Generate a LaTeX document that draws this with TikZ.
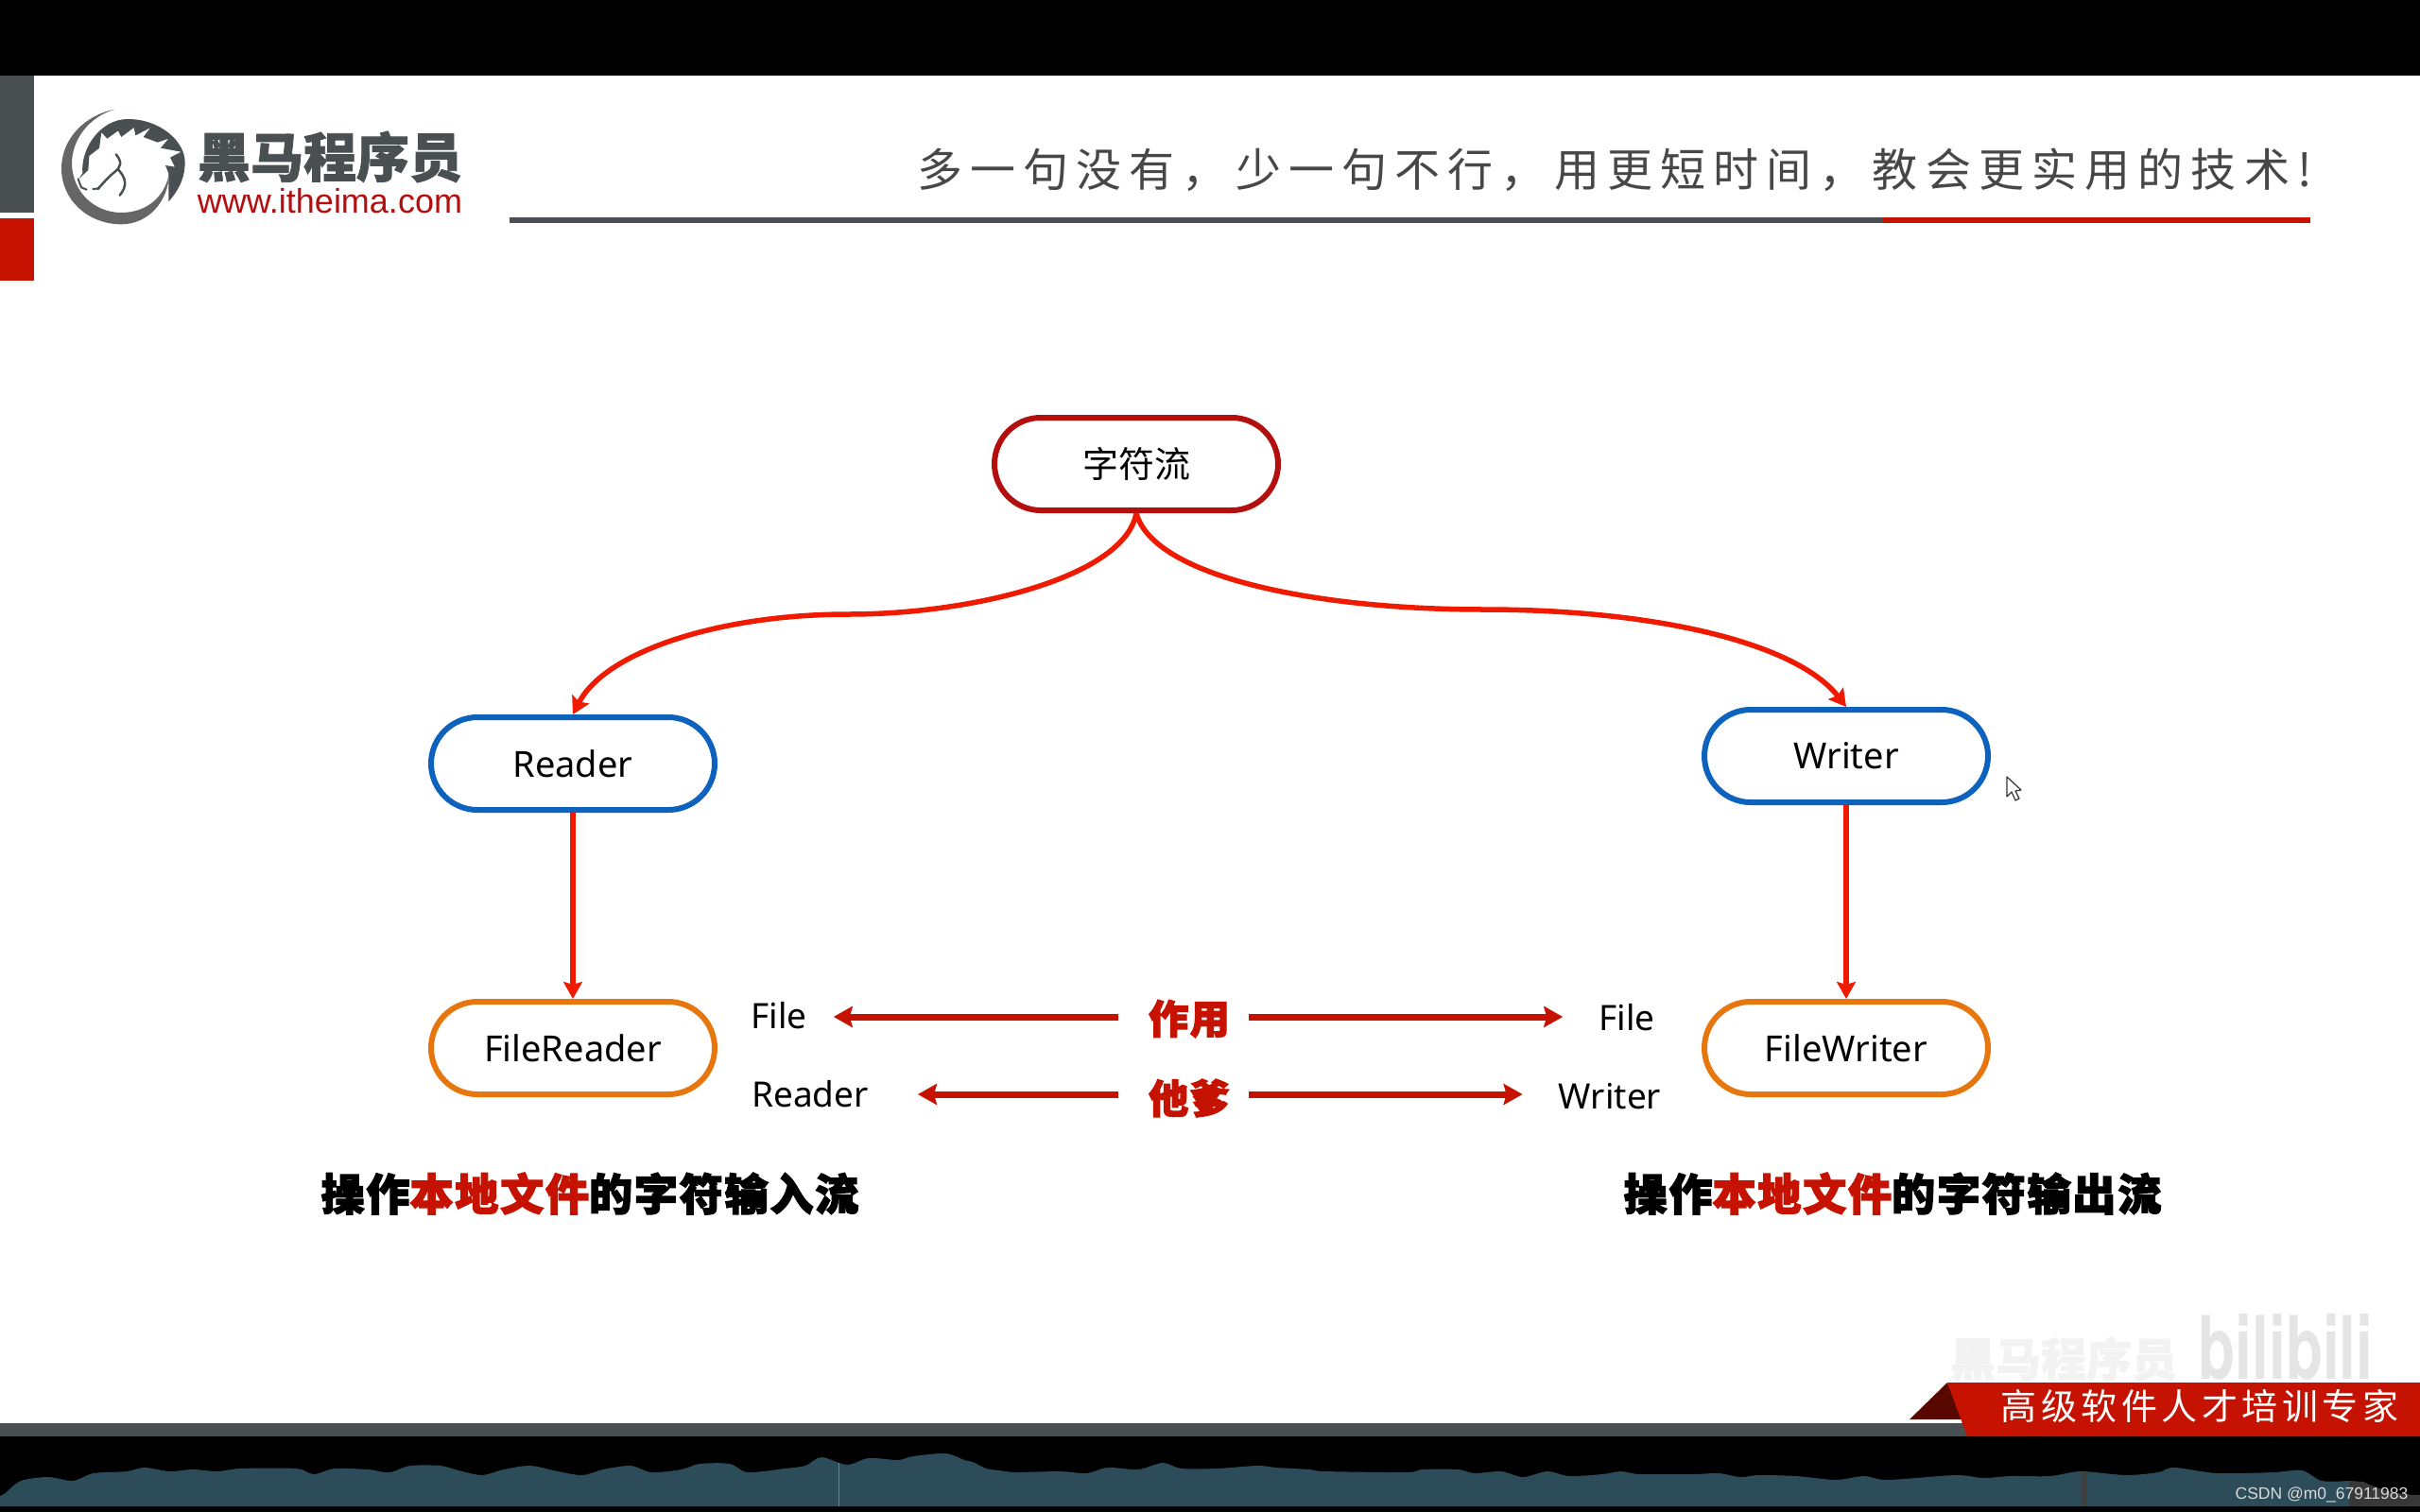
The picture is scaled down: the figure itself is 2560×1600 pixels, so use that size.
\documentclass[tikz,border=0pt]{standalone}
\usepackage{fontspec}
\setmainfont{Noto Sans}
\newfontfamily\cjk{Noto Sans CJK SC}
\newfontfamily\cjkslogan[LetterSpace=17]{Noto Sans CJK SC}
\newfontfamily\cjkbanner[LetterSpace=12]{Noto Sans CJK SC}
\newfontfamily\cjkheavy[LetterSpace=4,BoldFeatures={FakeBold=3}]{Noto Sans CJK SC}
\newfontfamily\cjkbold[BoldFeatures={FakeBold=1.5}]{Noto Sans CJK SC}
\newfontfamily\lib{Liberation Sans}
\newfontfamily\heros{TeX Gyre Heros}
\usetikzlibrary{arrows.meta}
\definecolor{slate}{HTML}{4A4F51}
\definecolor{dred}{HTML}{C61200}
\definecolor{lred}{HTML}{F01A00}
\definecolor{mblue}{HTML}{0C62BC}
\definecolor{morange}{HTML}{E8760F}
\definecolor{mdred}{HTML}{B40F0F}
\definecolor{teal2}{HTML}{2C4C5A}
\tikzset{
  pill/.style={draw,line width=6pt,fill=white,minimum width=300pt,minimum height=98pt,rounded corners=49pt,inner sep=0pt,font=\fontsize{38}{40}\selectfont},
  lbl/.style={inner sep=0pt,font=\fontsize{37}{40}\selectfont},
  conn/.style={lred,line width=5.5pt,-{Stealth[length=18pt,width=20pt,inset=3pt]}},
  darr/.style={dred,line width=7pt,-{Stealth[length=20pt,width=22pt,inset=3pt]}},
  redword/.style={inner sep=0pt,text=dred,font=\cjkheavy\bfseries\fontsize{42}{46}\selectfont},
  bigword/.style={inner sep=0pt,font=\cjkheavy\bfseries\fontsize{46}{50}\selectfont},
}
\begin{document}
\begin{tikzpicture}[x=1pt,y=-1pt]
\useasboundingbox (0,0) rectangle (2560,1600);
\fill[white] (0,0) rectangle (2560,1600);
% top and bottom frame
\fill[black] (0,0) rectangle (2560,80);
\fill[black] (0,1520) rectangle (2560,1600);
\fill[slate] (0,1506) rectangle (2560,1520);
\fill[slate] (0,80) rectangle (36,225);
\fill[dred] (0,231) rectangle (36,297);
% waveform
\fill[teal2] (0,1594) -- (0,1583) -- plot[smooth,tension=.5] coordinates {(6,1580)(22,1567)(51,1563)(77,1567)(99,1559)(134,1557)(153,1553)(179,1557)(204,1555)(230,1557)(255,1554)(313,1554)(332,1560)(354,1554)(389,1555)(412,1558)(434,1551)(466,1551)(485,1556)(510,1561)(533,1555)(561,1551)(590,1557)(616,1561)(638,1555)(667,1551)(689,1558)(721,1555)(740,1549)(772,1549)(791,1558)(830,1554)(852,1551)(869,1542)(896,1550)(919,1543)(950,1545)(966,1541)(1000,1538)(1020,1545)(1029,1547)(1043,1554)(1057,1556)(1075,1558)(1121,1557)(1149,1559)(1172,1553)(1204,1555)(1230,1548)(1250,1554)(1287,1554)(1330,1551)(1350,1553)(1385,1555)(1402,1557)(1488,1558)(1505,1555)(1542,1555)(1560,1559)(1588,1557)(1611,1563)(1637,1557)(1660,1562)(1695,1560)(1715,1557)(1735,1560)(1792,1560)(1818,1559)(1841,1563)(1861,1561)(1900,1562)(1942,1566)(1972,1562)(1997,1566)(2068,1561)(2098,1564)(2127,1562)(2169,1562)(2201,1557)(2249,1561)(2283,1558)(2300,1553)(2346,1559)(2405,1558)(2435,1556)(2456,1567)(2485,1567)} -- (2485,1594) -- cycle;
\fill[black!78] (2485,1594) -- (2485,1567) -- (2500,1568) .. controls (2520,1578) and (2540,1582) .. (2560,1582) -- (2560,1594) -- cycle;
\fill[black!75] (2202,1558) rectangle (2208,1594);
\draw[teal2!70!white,line width=1pt] (887,1548) -- (887,1594);
\node[inner sep=0pt,text=black!15,font=\lib\fontsize{17.5}{20}\selectfont] (csdn) at (2456,1582) {CSDN @m0\_67911983};
% banner
\node[inner sep=0pt,text=black!5,font=\cjkbold\bfseries\fontsize{48}{50}\selectfont] (wm) at (2183,1438) {黑马程序员};
\fill[black!55!dred] (2020,1502) -- (2060,1463) -- (2076,1502) -- cycle;
\fill[dred] (2060,1463) -- (2560,1463) -- (2560,1520) -- (2081,1520) -- cycle;
\node[inner sep=0pt,text=white,font=\cjkbanner\fontsize{38}{40}\selectfont] (ban) at (2327,1488) {高级软件人才培训专家};
\node[inner sep=0pt,text=black,text opacity=.1,font=\heros\bfseries\fontsize{64}{70}\selectfont] (bili) at (2418,1425) {\scalebox{1}[1.45]{bilibili}};
% logo
\begin{scope}[shift={(50,100)},scale=1/3]
  \fill[slate] (100,268) -- (112,250) .. controls (105,170) and (170,78) .. (255,78) .. controls (360,78) and (437,150) .. (437,215) .. controls (437,255) and (425,295) .. (385,340) -- (385,250) -- (375,225) -- (405,230) -- (390,200) -- (425,182) -- (360,170) -- (385,140) -- (350,152) -- (305,135) -- (328,105) -- (280,130) -- (275,105) -- (235,135) -- (225,115) -- (190,140) -- (172,120) -- (165,170) -- (133,195) -- (130,240) -- cycle;
  \fill[black!60] (215,47) .. controls (120,65) and (45,140) .. (45,235) .. controls (45,335) and (130,412) .. (235,412) .. controls (320,412) and (385,340) .. (387,250) .. controls (375,320) and (320,375) .. (235,375) .. controls (150,375) and (80,310) .. (78,220) .. controls (78,140) and (135,70) .. (215,47) -- cycle;
  \draw[slate,line width=2.5pt,line cap=round] (218,190) .. controls (240,215) and (232,232) .. (215,245) .. controls (190,265) and (175,285) .. (160,300);
  \draw[slate,line width=2.5pt,line cap=round] (225,238) .. controls (250,265) and (255,290) .. (230,320);
  \draw[slate,line width=2pt,line cap=round] (145,300) -- (165,298);
  \draw[slate,line width=2pt,line cap=round] (98,268) -- (108,295) -- (125,302);
\end{scope}
\node[inner sep=0pt,text=slate,font=\cjkbold\bfseries\fontsize{56}{60}\selectfont] (brand) at (349,166) {黑马程序员};
\node[inner sep=0pt,text=mdred,font=\lib\fontsize{36}{38}\selectfont] (site) at (349,213) {www.itheima.com};
% slogan
\node[inner sep=0pt,text=black!72,font=\cjkslogan\fontsize{48}{50}\selectfont,anchor=east] (slogan) at (2446,180) {多一句没有，少一句不行，用更短时间，教会更实用的技术!};
\fill[slate] (539,230) rectangle (1992,236);
\fill[dred] (1992,230) rectangle (2444,236);
% nodes
\node[pill,draw=mdred] (root) at (1202,491) {\cjk 字符流};
\node[pill,draw=mblue] (reader) at (606,808) {Reader};
\node[pill,draw=mblue] (writer) at (1953,800) {Writer};
\node[pill,draw=morange] (freader) at (606,1109) {FileReader};
\node[pill,draw=morange] (fwriter) at (1953,1109) {FileWriter};
\coordinate (midL) at (898,650);
\coordinate (midR) at (1570,645);
\draw[lred,line width=5.5pt] (root.south) .. controls (1190,610) and (1030,650) .. (midL);
\draw[conn] (midL) .. controls (760,650) and (640,690) .. (reader.north);
\draw[lred,line width=5.5pt] (root.south) .. controls (1220,610) and (1390,645) .. (midR);
\draw[conn] (midR) .. controls (1750,645) and (1900,680) .. (writer.north);
\draw[conn] (reader.south) -- (freader.north);
\draw[conn] (writer.south) -- (fwriter.north);
% middle labels
\node[lbl] (fileL) at (824,1075) {File};
\node[lbl] (readL) at (857,1158) {Reader};
\node[lbl] (fileR) at (1721,1077) {File};
\node[lbl] (writeR) at (1703,1160) {Writer};
\node[redword] (zuo) at (1258,1078) {作用};
\node[redword] (die) at (1258,1162) {他爹};
\draw[darr,shorten <=32pt,shorten >=28pt] (zuo.west |- 0,1076) -- (fileL.east |- 0,1076);
\draw[darr,shorten <=20pt,shorten >=38pt] (zuo.east |- 0,1076) -- (fileR.west |- 0,1076);
\draw[darr,shorten <=32pt,shorten >=52pt] (die.west |- 0,1158) -- (readL.east |- 0,1158);
\draw[darr,shorten <=20pt,shorten >=38pt] (die.east |- 0,1158) -- (writeR.west |- 0,1158);
% bottom captions
\node[bigword] (capL) at (624,1263) {操作\textcolor{dred}{本地文件}的字符输入流};
\node[bigword] (capR) at (2002,1263) {操作\textcolor{dred}{本地文件}的字符输出流};
% cursor
\draw[black!80,fill=white,line width=1.2pt,line join=round] (2123,822) -- (2138,836) -- (2132,837) -- (2136,845) -- (2132,847) -- (2128,838) -- (2123,843) -- cycle;
\end{tikzpicture}
\end{document}
